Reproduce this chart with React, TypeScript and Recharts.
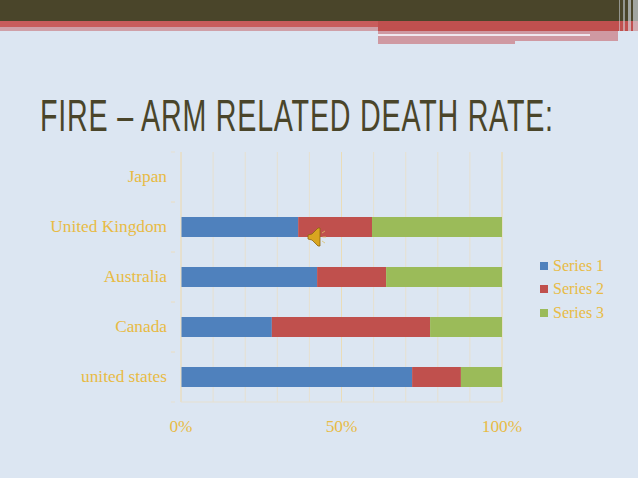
import { BarChart, Bar, XAxis, YAxis, CartesianGrid, Legend } from 'recharts'

const countries = ['Japan', 'United Kingdom', 'Australia', 'Canada', 'united states']
const series1 = [0, 36.5, 42.4, 28.3, 72]
const series2 = [0, 23, 21.5, 49.3, 15.2]
const series3 = [0, 40.5, 36.1, 22.4, 12.8]
const xTicks = [0, 0.1, 0.2, 0.3, 0.4, 0.5, 0.6, 0.7, 0.8, 0.9, 1]
const labelledTicks = [0, 0.5, 1]

const seriesNames = ['Series 1', 'Series 2', 'Series 3']
const seriesColors = ['#4f81bd', '#c0504d', '#9bbb59']

const data = countries.map((country, i) => ({
  country,
  s1: series1[i],
  s2: series2[i],
  s3: series3[i],
}))

const gold = '#e8bb45'
const faint = '#e6e0d0'
const font = '"Liberation Serif", "DejaVu Serif", serif'

function CountryTick({ x, y, payload }: any) {
  return (
    <g>
      <line x1={x + 10} x2={x + 14} y1={y - 25} y2={y - 25} stroke={faint} />
      <line x1={x + 10} x2={x + 14} y1={y + 25} y2={y + 25} stroke={faint} />
      <text x={x + 6} y={y} dy={5} textAnchor="end" fill={gold} fontSize={17.3} fontFamily={font}>
        {payload.value}
      </text>
    </g>
  )
}

function LegendList() {
  return (
    <div style={{ fontFamily: font, fontSize: 16, color: gold }}>
      {seriesNames.map((name, i) => (
        <div key={name} style={{ display: 'flex', alignItems: 'center', height: 23.5 }}>
          <span style={{ width: 8, height: 8, background: seriesColors[i], marginRight: 5 }} />
          {name}
        </div>
      ))}
    </div>
  )
}

function Speaker() {
  return (
    <svg width={20} height={22} viewBox="0 0 20 22" style={{ position: 'absolute', left: 307, top: 226 }}>
      <path d="M1 9 L5 8 L11 2 L13 2 L13 20 L11 20 L5 14 L1 13 Z" fill="#d9a520" stroke="#8a6510" strokeWidth={0.8} />
      <path d="M15 7 L18 5 M15.500 11 L19 11 M15 15 L18 17" stroke="#d9c06a" strokeWidth={0.8} />
    </svg>
  )
}

function Header() {
  const band = (left: number, top: number, width: number, height: number, background: string) => (
    <div style={{ position: 'absolute', left, top, width, height, background }} />
  )
  return (
    <>
      {band(0, 0, 638, 21, '#4a452a')}
      {band(0, 21, 378, 6, '#c85c5c')}
      {band(0, 27, 378, 4, '#cfa0a8')}
      {band(378, 21, 260, 10, '#c0504f')}
      {band(378, 31, 240, 10, '#cf99a2')}
      {band(378, 41, 137, 3, '#cf99a2')}
      {band(378, 34, 212, 2, '#f0e8ee')}
      {band(619, 0, 1, 40, 'rgba(220,230,242,0.5)')}
      {band(623, 0, 2, 42, 'rgba(220,230,242,0.5)')}
      {band(628, 0, 3, 44, 'rgba(220,230,242,0.6)')}
      {band(633, 0, 5, 42, 'rgba(220,230,242,0.6)')}
    </>
  )
}

export default function App() {
  return (
    <div style={{ position: 'absolute', left: 0, top: 0, width: 638, height: 478, background: '#dce6f2', overflow: 'hidden' }}>
      <Header />
      <svg width={638} height={478} style={{ position: 'absolute', left: 0, top: 0 }}>
        <text
          transform="translate(40 131) scale(0.775 1.18)"
          fill="#4a452a"
          fontSize={37}
          letterSpacing={1}
          fontFamily='"Liberation Sans Narrow", "Liberation Sans", sans-serif'
        >
          FIRE – ARM RELATED DEATH RATE:
        </text>
      </svg>
      <BarChart
        width={638}
        height={478}
        data={data}
        layout="vertical"
        stackOffset="expand"
        margin={{ top: 152, right: 46, bottom: 46, left: 31 }}
        style={{ position: 'absolute', left: 0, top: 0 }}
      >
        <CartesianGrid horizontal={false} stroke={faint} />
        <CartesianGrid horizontal={false} verticalValues={labelledTicks} stroke="#eadcb8" />
        <XAxis
          type="number"
          domain={[0, 1]}
          ticks={xTicks}
          interval={0}
          stroke={faint}
          tickLine={false}
          tickMargin={12}
          tick={{ fill: gold, fontSize: 17.3, fontFamily: font }}
          tickFormatter={(v: number) => (labelledTicks.includes(v) ? `${v * 100}%` : '')}
        />
        <YAxis
          type="category"
          dataKey="country"
          width={150}
          stroke={faint}
          tickLine={false}
          tick={<CountryTick />}
          tickMargin={14}
        />
        <Bar dataKey="s1" name={seriesNames[0]} stackId="a" fill={seriesColors[0]} barSize={20} isAnimationActive={false} />
        <Bar dataKey="s2" name={seriesNames[1]} stackId="a" fill={seriesColors[1]} barSize={20} isAnimationActive={false} />
        <Bar dataKey="s3" name={seriesNames[2]} stackId="a" fill={seriesColors[2]} barSize={20} isAnimationActive={false} />
        <Legend
          layout="vertical"
          align="right"
          verticalAlign="middle"
          content={<LegendList />}
          wrapperStyle={{ left: 540, top: 254, width: 90, bottom: 'auto', right: 'auto' }}
        />
      </BarChart>
      <Speaker />
    </div>
  )
}
